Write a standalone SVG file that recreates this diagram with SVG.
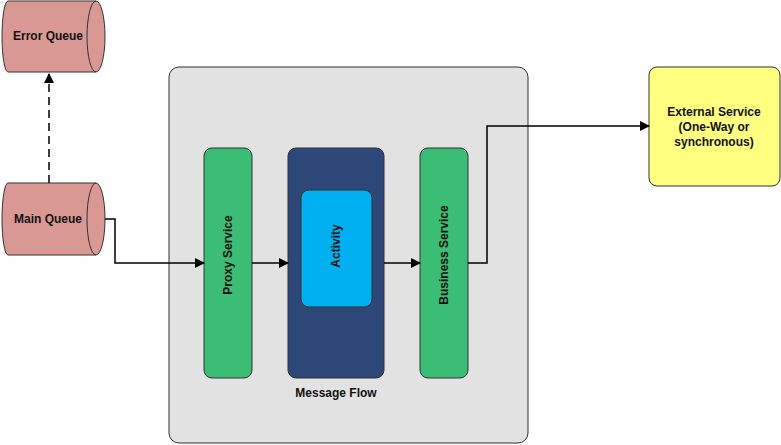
<svg xmlns="http://www.w3.org/2000/svg" width="781" height="445" viewBox="0 0 781 445">
<style>
text{font-family:"Liberation Sans",Arial,sans-serif;font-weight:bold;font-size:12px;fill:#111;text-anchor:middle}
.q{fill:#da9894;stroke:#333;stroke-width:1}
.c{fill:none;stroke:#000;stroke-width:1.5}
</style>
<defs><marker id="a" markerWidth="10" markerHeight="10" refX="9" refY="5" orient="auto" markerUnits="userSpaceOnUse"><path d="M0,0 L10,5 L0,10 z" fill="#000"/></marker></defs>
<g id="message-flow"><rect x="169" y="67" width="359" height="376" rx="10" fill="#e2e2e2" stroke="#333"/><text x="336" y="397">Message Flow</text></g>
<g id="error-queue"><path class="q" d="M8,1 L96,1 A9,35.5 0 0 1 96,72 L8,72 A6,35.5 0 0 1 8,1 z"/><path d="M96,1 A9,35.5 0 0 0 96,72" fill="none" stroke="#333"/><text x="48" y="40">Error Queue</text></g>
<g id="main-queue"><path class="q" d="M8,183 L96,183 A9,36 0 0 1 96,255 L8,255 A6,36 0 0 1 8,183 z"/><path d="M96,183 A9,36 0 0 0 96,255" fill="none" stroke="#333"/><text x="48" y="223">Main Queue</text></g>
<g id="proxy-service"><rect x="204" y="148" width="48" height="230" rx="8" fill="#3bbd76" stroke="#333"/><text transform="translate(232,255) rotate(-90)">Proxy Service</text></g>
<g id="activity-container"><rect x="288" y="148" width="96" height="230" rx="8" fill="#2d4779" stroke="#333"/></g>
<g id="activity"><rect x="301" y="190" width="71" height="117" rx="8" fill="#00b0f0" stroke="#333"/><text transform="translate(340,246) rotate(-90)">Activity</text></g>
<g id="business-service"><rect x="420" y="148" width="48" height="230" rx="8" fill="#3bbd76" stroke="#333"/><text transform="translate(448,255) rotate(-90)">Business Service</text></g>
<g id="external-service"><rect x="649" y="67" width="131" height="119" rx="8" fill="#ffff80" stroke="#333"/><text x="714" y="116">External Service</text><text x="714" y="131">(One-Way or</text><text x="714" y="146">synchronous)</text></g>
<g id="connectors">
<path class="c" d="M49,183 L49,74" stroke-dasharray="8,5" marker-end="url(#a)"/>
<path class="c" d="M105,219 L115,219 L115,263 L204,263" marker-end="url(#a)"/>
<path class="c" d="M252,263 L288,263" marker-end="url(#a)"/>
<path class="c" d="M384,263 L420,263" marker-end="url(#a)"/>
<path class="c" d="M468,263 L487,263 L487,126 L649,126" marker-end="url(#a)"/>
</g>
</svg>
